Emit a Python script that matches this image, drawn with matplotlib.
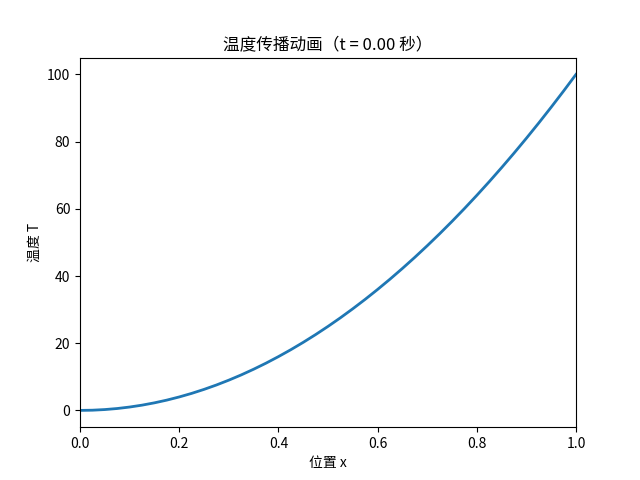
import matplotlib
matplotlib.use('Agg')
import matplotlib.pyplot as plt

plt.rcParams['font.family'] = ['Noto Sans CJK SC', 'DejaVu Sans']
plt.rcParams['axes.unicode_minus'] = False

# 位置与温度
x_pos = [0.0, 0.025, 0.05, 0.075, 0.1, 0.125, 0.15, 0.175, 0.2, 0.225, 0.25,
         0.275, 0.3, 0.325, 0.35, 0.375, 0.4, 0.425, 0.45, 0.475, 0.5,
         0.525, 0.55, 0.575, 0.6, 0.625, 0.65, 0.675, 0.7, 0.725, 0.75,
         0.775, 0.8, 0.825, 0.85, 0.875, 0.9, 0.925, 0.95, 0.975, 1.0]
temp = [0.0, 0.06, 0.25, 0.56, 1.0, 1.56, 2.25, 3.06, 4.0, 5.06, 6.25,
        7.56, 9.0, 10.56, 12.25, 14.06, 16.0, 18.06, 20.25, 22.56, 25.0,
        27.56, 30.25, 33.06, 36.0, 39.06, 42.25, 45.56, 49.0, 52.56, 56.25,
        60.06, 64.0, 68.06, 72.25, 76.56, 81.0, 85.56, 90.25, 95.06, 100.0]
t_now = 0.00

fig, ax = plt.subplots(figsize=(6.4, 4.8), dpi=100)
ax.plot(x_pos, temp, color='#1f77b4', lw=2)
ax.set_xlim(0, 1)
ax.set_xlabel('位置 x')
ax.set_ylabel('温度 T')
ax.set_title('温度传播动画（t = %.2f 秒）' % t_now)

fig.savefig('out.png', dpi=100)
